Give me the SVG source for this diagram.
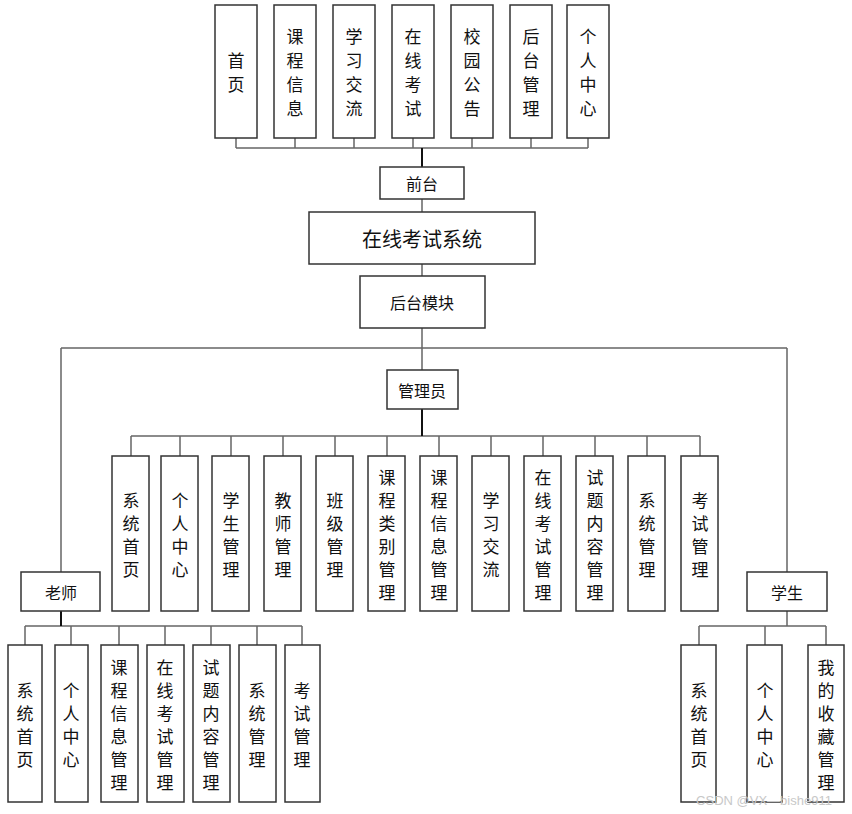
<svg xmlns="http://www.w3.org/2000/svg" width="852" height="814" viewBox="0 0 852 814">
<style>
rect{fill:#fff;stroke:#333;stroke-width:1.5}
text{font-family:"Noto Sans CJK SC","Liberation Sans",sans-serif;font-size:17px;fill:#111;text-anchor:middle;dominant-baseline:central}
.c path{fill:none;stroke:#666;stroke-width:1.5}
.c .k{stroke:#111;stroke-width:2}
</style>
<rect x="0" y="0" width="852" height="814" style="stroke:none"/>
<g class="c">
<path d="M236 138V148M295 138V148M354 138V148M413 138V148M472 138V148M531 138V148M588 138V148M236 148H588"/>
<path class="k" d="M422 148V167"/>
<path d="M422 199V212M422 264V276M422 328V370M61 348H787M61 348V572M787 348V572"/>
<path d="M131 436H700M131 436V456M180 436V456M231 436V456M283 436V456M335 436V456M387 436V456M439 436V456M491 436V456M543 436V456M595 436V456M647 436V456M700 436V456"/>
<path class="k" d="M422 409V436"/>
<path d="M25 626H302M25 626V645M71 626V645M119 626V645M165 626V645M211 626V645M257 626V645M302 626V645"/>
<path class="k" d="M61 611V626"/>
<path d="M787 611V626M699 626H826M699 626V645M765 626V645M826 626V645"/>
</g>
<g id="top">
<g id="t1"><rect x="215" y="5" width="42" height="133"/><text x="236"><tspan y="59">首</tspan><tspan x="236" y="83">页</tspan></text></g>
<g id="t2"><rect x="274" y="5" width="42" height="133"/><text x="295"><tspan y="35">课</tspan><tspan x="295" y="59">程</tspan><tspan x="295" y="83">信</tspan><tspan x="295" y="107">息</tspan></text></g>
<g id="t3"><rect x="333" y="5" width="42" height="133"/><text x="354"><tspan y="35">学</tspan><tspan x="354" y="59">习</tspan><tspan x="354" y="83">交</tspan><tspan x="354" y="107">流</tspan></text></g>
<g id="t4"><rect x="392" y="5" width="42" height="133"/><text x="413"><tspan y="35">在</tspan><tspan x="413" y="59">线</tspan><tspan x="413" y="83">考</tspan><tspan x="413" y="107">试</tspan></text></g>
<g id="t5"><rect x="451" y="5" width="42" height="133"/><text x="472"><tspan y="35">校</tspan><tspan x="472" y="59">园</tspan><tspan x="472" y="83">公</tspan><tspan x="472" y="107">告</tspan></text></g>
<g id="t6"><rect x="510" y="5" width="42" height="133"/><text x="531"><tspan y="35">后</tspan><tspan x="531" y="59">台</tspan><tspan x="531" y="83">管</tspan><tspan x="531" y="107">理</tspan></text></g>
<g id="t7"><rect x="567" y="5" width="42" height="133"/><text x="588"><tspan y="35">个</tspan><tspan x="588" y="59">人</tspan><tspan x="588" y="83">中</tspan><tspan x="588" y="107">心</tspan></text></g>
</g>
<g id="qiantai"><rect x="380" y="167" width="84" height="32"/><text x="422" y="183" style="font-size:16px">前台</text></g>
<g id="system"><rect x="309" y="212" width="226" height="52"/><text x="422" y="238" style="font-size:20px">在线考试系统</text></g>
<g id="houtai"><rect x="360" y="276" width="125" height="52"/><text x="422" y="302" style="font-size:16px">后台模块</text></g>
<g id="admin"><rect x="387" y="370" width="71" height="39"/><text x="422" y="390" style="font-size:16px">管理员</text></g>
<g id="teacher"><rect x="21" y="572" width="79" height="39"/><text x="61" y="592" style="font-size:16px">老师</text></g>
<g id="student"><rect x="747" y="572" width="80" height="39"/><text x="787" y="592" style="font-size:16px">学生</text></g>
<g id="adminItems">
<g><rect x="112" y="456" width="37" height="155"/><text x="131"><tspan y="499">系</tspan><tspan x="131" y="522">统</tspan><tspan x="131" y="545">首</tspan><tspan x="131" y="568">页</tspan></text></g>
<g><rect x="161" y="456" width="37" height="155"/><text x="180"><tspan y="499">个</tspan><tspan x="180" y="522">人</tspan><tspan x="180" y="545">中</tspan><tspan x="180" y="568">心</tspan></text></g>
<g><rect x="212" y="456" width="37" height="155"/><text x="231"><tspan y="499">学</tspan><tspan x="231" y="522">生</tspan><tspan x="231" y="545">管</tspan><tspan x="231" y="568">理</tspan></text></g>
<g><rect x="264" y="456" width="37" height="155"/><text x="283"><tspan y="499">教</tspan><tspan x="283" y="522">师</tspan><tspan x="283" y="545">管</tspan><tspan x="283" y="568">理</tspan></text></g>
<g><rect x="316" y="456" width="37" height="155"/><text x="335"><tspan y="499">班</tspan><tspan x="335" y="522">级</tspan><tspan x="335" y="545">管</tspan><tspan x="335" y="568">理</tspan></text></g>
<g><rect x="368" y="456" width="37" height="155"/><text x="387"><tspan y="476">课</tspan><tspan x="387" y="499">程</tspan><tspan x="387" y="522">类</tspan><tspan x="387" y="545">别</tspan><tspan x="387" y="568">管</tspan><tspan x="387" y="591">理</tspan></text></g>
<g><rect x="420" y="456" width="37" height="155"/><text x="439"><tspan y="476">课</tspan><tspan x="439" y="499">程</tspan><tspan x="439" y="522">信</tspan><tspan x="439" y="545">息</tspan><tspan x="439" y="568">管</tspan><tspan x="439" y="591">理</tspan></text></g>
<g><rect x="472" y="456" width="37" height="155"/><text x="491"><tspan y="499">学</tspan><tspan x="491" y="522">习</tspan><tspan x="491" y="545">交</tspan><tspan x="491" y="568">流</tspan></text></g>
<g><rect x="524" y="456" width="37" height="155"/><text x="543"><tspan y="476">在</tspan><tspan x="543" y="499">线</tspan><tspan x="543" y="522">考</tspan><tspan x="543" y="545">试</tspan><tspan x="543" y="568">管</tspan><tspan x="543" y="591">理</tspan></text></g>
<g><rect x="576" y="456" width="37" height="155"/><text x="595"><tspan y="476">试</tspan><tspan x="595" y="499">题</tspan><tspan x="595" y="522">内</tspan><tspan x="595" y="545">容</tspan><tspan x="595" y="568">管</tspan><tspan x="595" y="591">理</tspan></text></g>
<g><rect x="628" y="456" width="37" height="155"/><text x="647"><tspan y="499">系</tspan><tspan x="647" y="522">统</tspan><tspan x="647" y="545">管</tspan><tspan x="647" y="568">理</tspan></text></g>
<g><rect x="681" y="456" width="37" height="155"/><text x="700"><tspan y="499">考</tspan><tspan x="700" y="522">试</tspan><tspan x="700" y="545">管</tspan><tspan x="700" y="568">理</tspan></text></g>
</g>
<g id="teacherItems">
<g><rect x="8" y="645" width="34" height="157"/><text x="25"><tspan y="689">系</tspan><tspan x="25" y="712">统</tspan><tspan x="25" y="735">首</tspan><tspan x="25" y="758">页</tspan></text></g>
<g><rect x="55" y="645" width="33" height="157"/><text x="71"><tspan y="689">个</tspan><tspan x="71" y="712">人</tspan><tspan x="71" y="735">中</tspan><tspan x="71" y="758">心</tspan></text></g>
<g><rect x="101" y="645" width="37" height="157"/><text x="119"><tspan y="666">课</tspan><tspan x="119" y="689">程</tspan><tspan x="119" y="712">信</tspan><tspan x="119" y="735">息</tspan><tspan x="119" y="758">管</tspan><tspan x="119" y="781">理</tspan></text></g>
<g><rect x="147" y="645" width="37" height="157"/><text x="165"><tspan y="666">在</tspan><tspan x="165" y="689">线</tspan><tspan x="165" y="712">考</tspan><tspan x="165" y="735">试</tspan><tspan x="165" y="758">管</tspan><tspan x="165" y="781">理</tspan></text></g>
<g><rect x="193" y="645" width="37" height="157"/><text x="211"><tspan y="666">试</tspan><tspan x="211" y="689">题</tspan><tspan x="211" y="712">内</tspan><tspan x="211" y="735">容</tspan><tspan x="211" y="758">管</tspan><tspan x="211" y="781">理</tspan></text></g>
<g><rect x="239" y="645" width="37" height="157"/><text x="257"><tspan y="689">系</tspan><tspan x="257" y="712">统</tspan><tspan x="257" y="735">管</tspan><tspan x="257" y="758">理</tspan></text></g>
<g><rect x="285" y="645" width="35" height="157"/><text x="302"><tspan y="689">考</tspan><tspan x="302" y="712">试</tspan><tspan x="302" y="735">管</tspan><tspan x="302" y="758">理</tspan></text></g>
</g>
<g id="studentItems">
<g><rect x="681" y="645" width="35" height="157"/><text x="699"><tspan y="689">系</tspan><tspan x="699" y="712">统</tspan><tspan x="699" y="735">首</tspan><tspan x="699" y="758">页</tspan></text></g>
<g><rect x="747" y="645" width="35" height="157"/><text x="765"><tspan y="689">个</tspan><tspan x="765" y="712">人</tspan><tspan x="765" y="735">中</tspan><tspan x="765" y="758">心</tspan></text></g>
<g><rect x="808" y="645" width="36" height="157"/><text x="826"><tspan y="666">我</tspan><tspan x="826" y="689">的</tspan><tspan x="826" y="712">收</tspan><tspan x="826" y="735">藏</tspan><tspan x="826" y="758">管</tspan><tspan x="826" y="781">理</tspan></text></g>
</g>
<text x="764" y="800" style="font-size:13px;fill:#c8c8c8;font-family:'Liberation Sans',sans-serif">CSDN @VX—bishe911</text>
</svg>
